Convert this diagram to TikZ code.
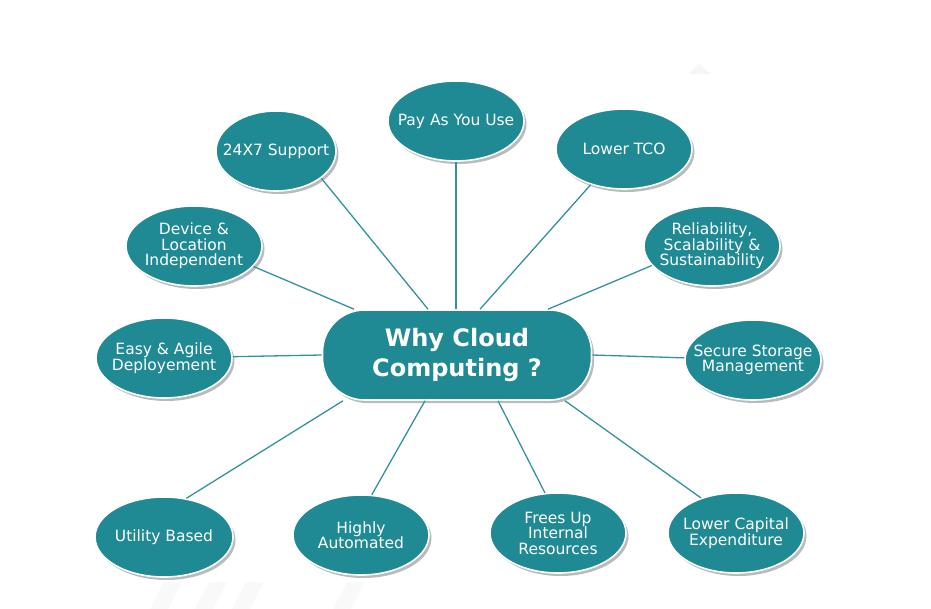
\documentclass[tikz,border=0pt]{standalone}
\usepackage{fontspec}
\setmainfont{DejaVu Sans}
\usepackage{tikz}
\usetikzlibrary{shapes.geometric,shadows}

\definecolor{tealc}{RGB}{31,138,147}
\definecolor{linec}{RGB}{52,146,156}

\tikzset{
    oval/.style={ellipse,fill=tealc,draw=white,line width=1.6pt,text=white,
        inner xsep=-15pt,inner ysep=-8pt,minimum height=80pt,align=center,
        font=\fontsize{15.5}{15.5}\selectfont,
        drop shadow={shadow xshift=2.5pt,shadow yshift=-3pt,opacity=.45,fill=black!60}},
    hubbox/.style={rectangle,rounded corners=42pt,fill=tealc,draw=white,line width=1.6pt,
        text=white,minimum width=269pt,minimum height=90pt,align=center,
        font=\bfseries\fontsize{24}{30}\selectfont,
        drop shadow={shadow xshift=2.5pt,shadow yshift=-3pt,opacity=.45,fill=black!60}},
    link/.style={draw=linec,line width=1.3pt}
}

\begin{document}
\begin{tikzpicture}[x=1pt,y=-1pt]
    \useasboundingbox (0,0) rectangle (931,609);
    \fill[gray!7] (688,74)--(699,64)--(711,74)--cycle;
    \foreach \s in{150,195,232,333}{
            \fill[gray!5](\s,609)--(\s+14,582)--(\s+32,582)--(\s+18,609)--cycle;
        }
    \node[hubbox] (H) at (457,355) {Why Cloud\\Computing ?};
    \foreach \n/\x/\y/\w/\t in{
            1/456/121/136/{Pay As You Use},
            2/276/151/120/{24X7 Support},
            3/624/149/136/{Lower TCO},
            4/194/246/136/{Device \&\\Location\\Independent},
            5/712/246/136/{Reliability,\\Scalability \&\\Sustainability},
            6/164/358/136/{Easy \& Agile\\Deployement},
            7/753/360/136/{Secure Storage\\Management},
            8/164/537/138/{Utility Based},
            9/361/535/136/{Highly\\Automated},
            10/558/533/136/{Frees Up\\Internal\\Resources},
            11/736/533/136/{Lower Capital\\Expenditure}}{
            \node[oval,minimum width=\w pt] (E\n) at (\x,\y) {\t};
        }
    \foreach \n/\dx/\side/\a in{1/-1/north/-90,2/-29/north/-31,3/23/north/-133,
            4/-103/north/-19,5/91/north/-162,
            8/-114/south/60,9/-32/south/75,10/41/south/108,11/108/south/135}{
            \draw[link] ([xshift=\dx pt]H.\side) -- (E\n.\a);
        }
    \draw[link] (H.west) -- (E6);
    \draw[link] (H.east) -- (E7);
\end{tikzpicture}
\end{document}
